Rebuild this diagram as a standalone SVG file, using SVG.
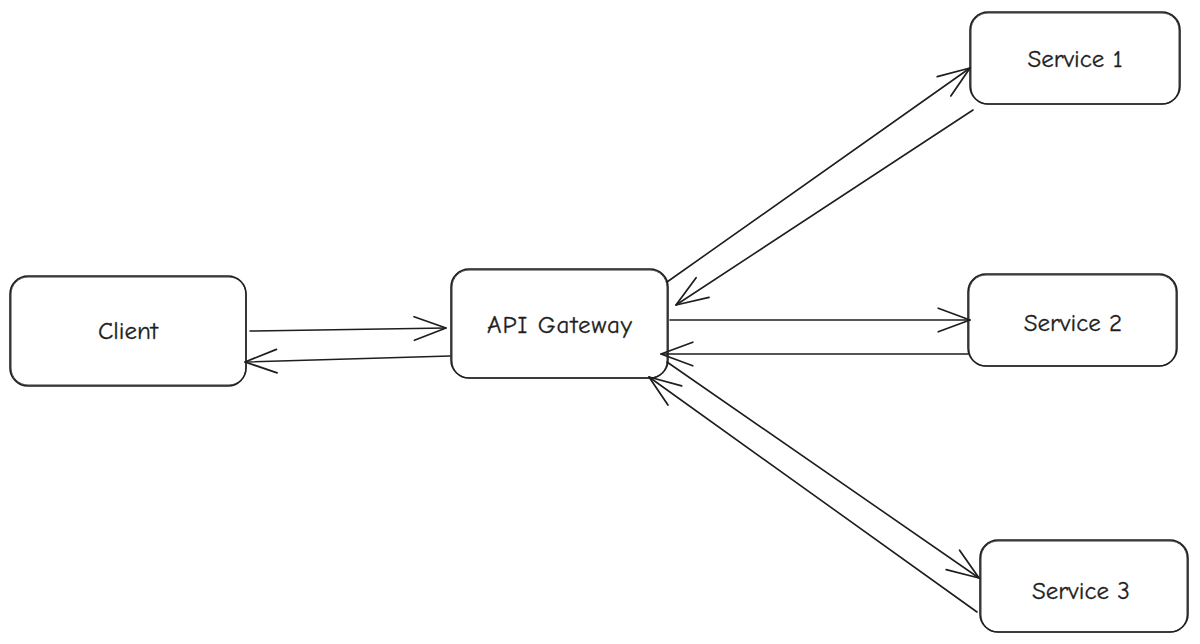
<svg xmlns="http://www.w3.org/2000/svg" width="1200" height="644" viewBox="0 0 1200 644">
<style>
.box{fill:#ffffff;stroke:#1e1e1e;stroke-width:1.6}
.box2{fill:none;stroke:#1e1e1e;stroke-width:0.9}
.lbl{font-family:"Comic Neue","Liberation Sans",sans-serif;font-size:25px;fill:#1e1e1e;text-anchor:middle;dominant-baseline:central;stroke:#1e1e1e;stroke-width:0.3}
.con{fill:none;stroke:#1e1e1e;stroke-width:1.6;stroke-linecap:round}
</style>
<defs>
<marker id="ah" markerUnits="userSpaceOnUse" markerWidth="40" markerHeight="40" refX="0" refY="0" viewBox="-30 -15 34 30" orient="auto" overflow="visible">
<path d="M-27,-10 L0,0 L-27,10" fill="none" stroke="#1e1e1e" stroke-width="1.5" stroke-linecap="round" stroke-linejoin="round"/>
</marker>
</defs>
<rect width="1200" height="644" fill="#ffffff"/>
<g id="client">
<rect class="box" x="10" y="276" width="236" height="110" rx="18"/>
<rect class="box2" x="11" y="277" width="235" height="108" rx="17"/>
<text class="lbl" x="128" y="330">Client</text>
</g>
<g id="gateway">
<rect class="box" x="451" y="269" width="217" height="109" rx="18"/>
<rect class="box2" x="452" y="270" width="215" height="108" rx="17"/>
<text class="lbl" x="560" y="324" letter-spacing="1">API Gateway</text>
</g>
<g id="service1">
<rect class="box" x="970" y="12" width="210" height="92" rx="18"/>
<rect class="box2" x="971" y="13" width="208" height="91" rx="17"/>
<text class="lbl" x="1075" y="58">Service 1</text>
</g>
<g id="service2">
<rect class="box" x="968" y="274" width="209" height="92" rx="18"/>
<rect class="box2" x="969" y="275" width="207" height="91" rx="17"/>
<text class="lbl" x="1073" y="322">Service 2</text>
</g>
<g id="service3">
<rect class="box" x="980" y="540" width="208" height="92" rx="18"/>
<rect class="box2" x="981" y="541" width="206" height="91" rx="17"/>
<text class="lbl" x="1081" y="590">Service 3</text>
</g>
<g id="connectors">
<path class="con" d="M250,331 L446,328" marker-end="url(#ah)"/>
<path class="con" d="M450,356 L245,362" marker-end="url(#ah)"/>
<path class="con" d="M667,282 L970,68" marker-end="url(#ah)"/>
<path class="con" d="M973,110 L676,305" marker-end="url(#ah)"/>
<path class="con" d="M670,320 L970,320" marker-end="url(#ah)"/>
<path class="con" d="M968,354 L661,354" marker-end="url(#ah)"/>
<path class="con" d="M667,362 L979,578" marker-end="url(#ah)"/>
<path class="con" d="M977,612 L649,377" marker-end="url(#ah)"/>
</g>
</svg>
